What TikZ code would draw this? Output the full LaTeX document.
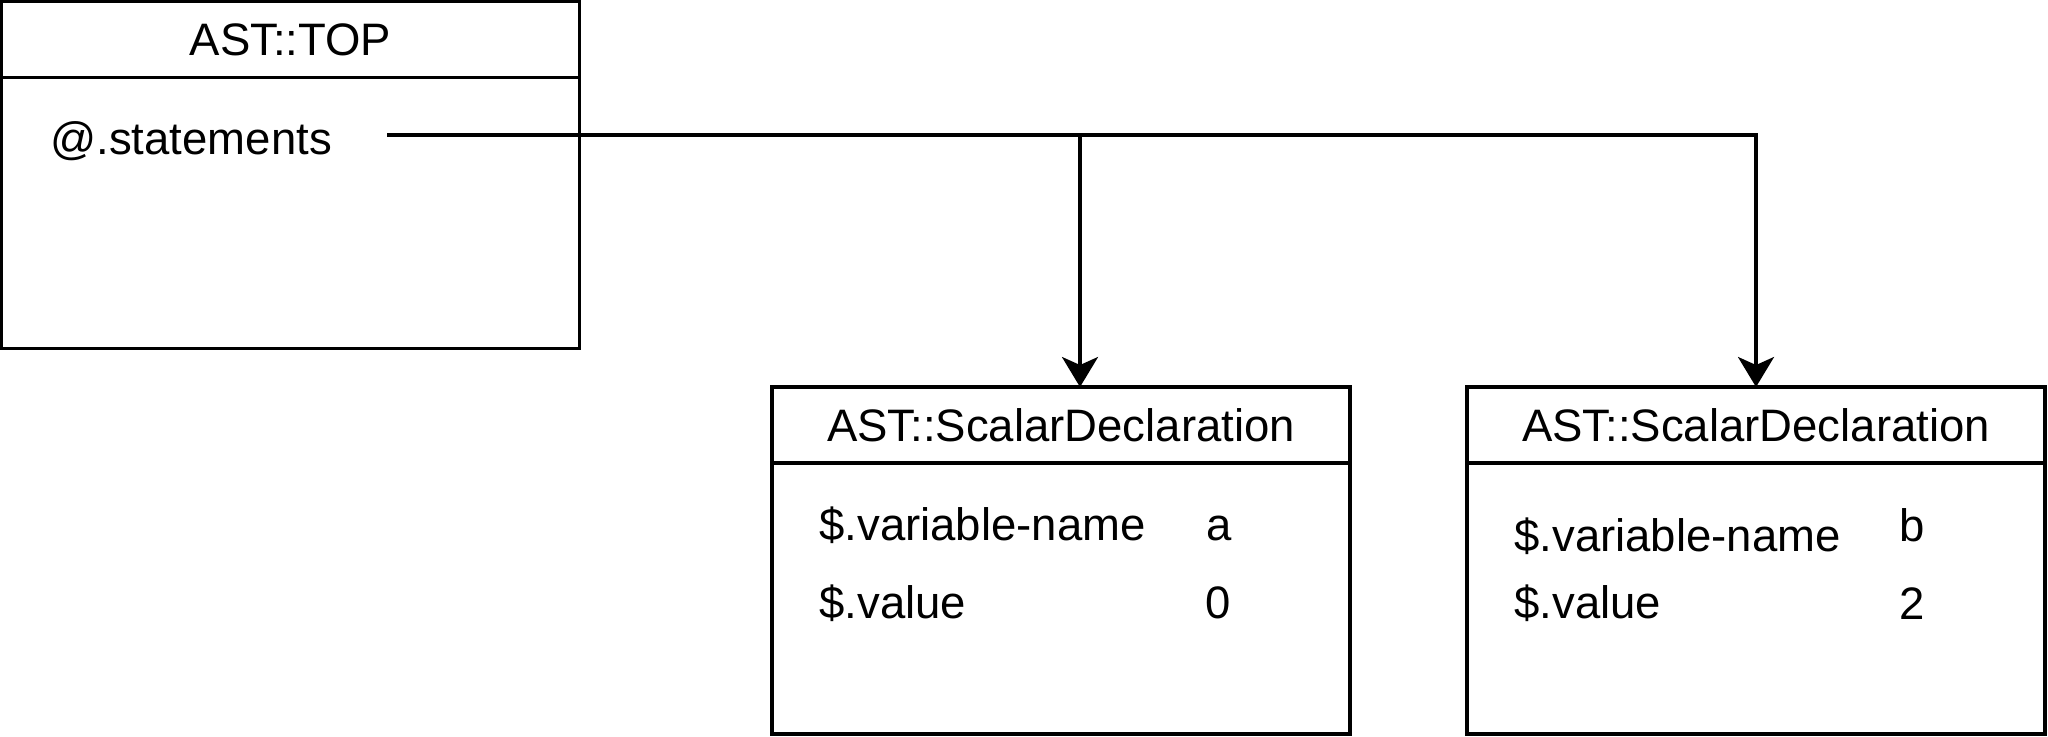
\documentclass[tikz,border=0pt]{standalone}
\usepackage{fontspec}
\setmainfont{Liberation Sans}
\usetikzlibrary{positioning,arrows.meta}

\begin{document}
\begin{tikzpicture}[
x=0.5pt,
y=-0.5pt,
head/.style={
  draw,
  line width=1.75pt,
  minimum width=289pt,
  minimum height=38pt,
  inner sep=0pt,
  outer sep=0pt,
  font=\fontsize{22.75}{27}\selectfont
  },
body/.style={
  draw,
  line width=1.75pt,
  minimum width=289pt,
  minimum height=135.5pt,
  outer sep=0pt
  },
field/.style={
  inner sep=0pt,
  anchor=base west,
  font=\fontsize{22.75}{27}\selectfont
  },
flow/.style={
  line width=1.75pt
  },
>={Stealth[length=15pt,width=18pt,inset=4pt]}
]
\useasboundingbox (0,0) rectangle (2048,736);

% class boxes
\node[head, anchor=north west] (top) at (1.5,1.5) {AST::TOP};
\node[body, below=0pt of top] (topbody) {};
\node[head, anchor=north west] (decl1) at (772,387) {AST::ScalarDeclaration};
\node[body, below=0pt of decl1] (decl1body) {};
\node[head, anchor=north west] (decl2) at (1467,387) {AST::ScalarDeclaration};
\node[body, below=0pt of decl2] (decl2body) {};

% fields
\node[field] (stmt) at (50,154) {@.statements};
\node[field] (name1) at (819,540) {\$.variable-name};
\node[field] (val1) at (819,618) {\$.value};
\node[field] (name1v) at (1206,540) {a};
\node[field] (val1v) at (1205,618) {0};
\node[field] (name2) at (1514,551) {\$.variable-name};
\node[field] (val2) at (1514,618) {\$.value};
\node[field] (name2v) at (1899,541) {b};
\node[field] (val2v) at (1899,619) {2};

\coordinate (stmtend) at (387,135);
\coordinate (fork) at (1080,135);
\draw[flow,->] (stmtend) -| (decl2.north);
\draw[flow,->] (fork) -- (fork |- decl1.north);
\end{tikzpicture}
\end{document}
